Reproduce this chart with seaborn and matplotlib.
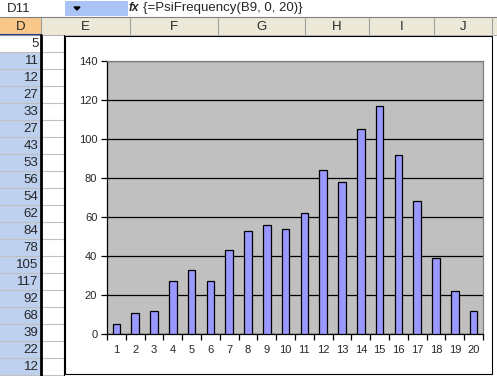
import matplotlib
matplotlib.use("Agg")
import matplotlib.pyplot as plt
import seaborn as sns
import pandas as pd
from matplotlib.patches import Rectangle
from matplotlib.ticker import FixedLocator, MultipleLocator

bins = [str(i) for i in range(1, 21)]
counts = [5, 11, 12, 27, 33, 27, 43, 53, 56, 54, 62, 84, 78, 105, 117, 92, 68, 39, 22, 12]
col_letters = ["D", "E", "F", "G", "H", "I", "J"]
col_edges = [0, 41, 130, 218, 305, 369, 434, 492]
name_box = "D11"
formula = "{=PsiFrequency(B9, 0, 20)}"

W, H = 497, 376
sns.set_theme(style="white")
plt.rcParams["font.family"] = ["Liberation Sans", "DejaVu Sans"]
fig = plt.figure(figsize=(W / 100, H / 100), dpi=100)
fig.patch.set_facecolor("white")

bg = fig.add_axes([0, 0, 1, 1])
bg.set_xlim(0, W)
bg.set_ylim(H, 0)
bg.axis("off")

# formula bar
bg.add_patch(Rectangle((0, 0), W, 17, facecolor="white", edgecolor="none"))
bg.add_patch(Rectangle((65, 1), 63, 15, facecolor="#A9C4F4", edgecolor="none"))
bg.add_patch(plt.Polygon([[74, 7], [80, 7], [77, 10]], closed=True, color="black"))
bg.text(7, 8.5, name_box, fontsize=9.5, va="center", ha="left")
bg.text(129, 8, "fx", fontsize=8.5, va="center", ha="left", style="italic", fontweight="bold")
bg.text(143, 8.5, formula, fontsize=9.5, va="center", ha="left")
bg.plot([0, W], [17, 17], color="#808080", lw=0.8)

# column headers
bg.add_patch(Rectangle((0, 17), W, 18, facecolor="#ECE9D8", edgecolor="none"))
bg.add_patch(Rectangle((0, 17), 41, 18, facecolor="#F9C78A", edgecolor="none"))
for i, let in enumerate(col_letters):
    x0, x1 = col_edges[i], col_edges[i + 1]
    bg.text((x0 + x1) / 2, 26.5, let, fontsize=9.5, ha="center", va="center")
    bg.plot([x1, x1], [18, 34], color="#A0A0A0", lw=0.8)
bg.plot([0, 41], [34.5, 34.5], color="#1F3F8F", lw=1.5)
bg.plot([0, W], [35, 35], color="#A0A0A0", lw=0.6)

# column D cells
row_h = 17
for r, v in enumerate(counts):
    y0 = 35 + r * row_h
    fc = "white" if r == 0 else "#BDD0EE"
    bg.add_patch(Rectangle((0, y0), 40, row_h, facecolor=fc, edgecolor="none"))
    bg.plot([0, 64], [y0 + row_h, y0 + row_h], color="#C0C0C0", lw=0.8)
    bg.text(38.5, y0 + row_h / 2 + 0.5, str(v), fontsize=9.5, ha="right", va="center")
bg.plot([41, 41], [35, H], color="black", lw=2)
bg.plot([64, 64], [35, H], color="black", lw=0.8)
# chart area border
bg.add_patch(Rectangle((64.5, 35.5), 427.5, 338, facecolor="white", edgecolor="black", lw=0.8))

# chart plot area
df = pd.DataFrame({"bin": bins, "count": counts})
l, r_, t, b = 107, 483, 61, 334
ax = fig.add_axes([l / W, 1 - b / H, (r_ - l) / W, (b - t) / H])
ax.set_facecolor("#C0C0C0")
sns.barplot(data=df, x="bin", y="count", color="#9999FF", edgecolor="black",
            linewidth=0.9, width=0.4, saturation=1, ax=ax, zorder=3)
ax.set_xlim(-0.5, 19.5)
ax.set_ylim(0, 140)
ax.yaxis.set_major_locator(MultipleLocator(20))
ax.yaxis.grid(True, color="black", lw=0.9, zorder=1)
ax.set_axisbelow(True)
ax.set_xlabel("")
ax.set_ylabel("")
for s in ["top", "right"]:
    ax.spines[s].set_color("#808080")
    ax.spines[s].set_linewidth(0.9)
ax.spines["left"].set_color("black")
ax.spines["bottom"].set_color("black")
ax.spines["left"].set_linewidth(0.9)
ax.spines["bottom"].set_linewidth(0.9)
ax.xaxis.set_minor_locator(FixedLocator([i - 0.5 for i in range(21)]))
ax.tick_params(axis="x", which="major", length=0, pad=8, labelsize=8)
ax.tick_params(axis="x", which="minor", length=4, width=0.9, color="black", direction="out", bottom=True)
ax.tick_params(axis="y", which="major", length=4, width=0.9, color="black", direction="out", left=True, labelsize=8, pad=3)

fig.savefig("out.png", dpi=100)
